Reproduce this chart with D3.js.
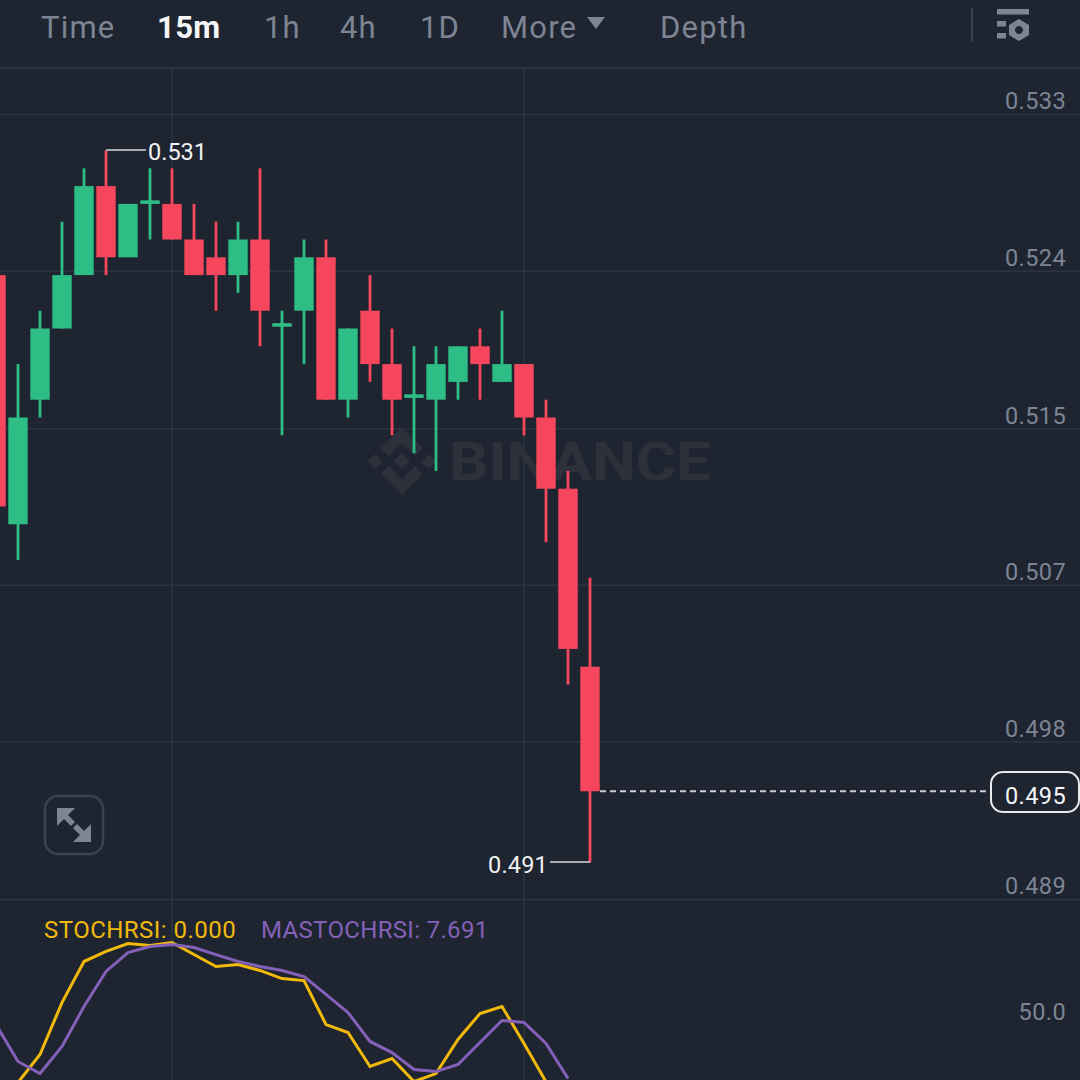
<!DOCTYPE html>
<html>
<head>
<meta charset="utf-8">
<script src="https://cdn.jsdelivr.net/npm/d3@7"></script>
<style>
  html, body { margin: 0; padding: 0; background: #1f2530; overflow: hidden; }
  svg { display: block; font-family: "Roboto", sans-serif; }
</style>
</head>
<body>
<script>
// candles, oldest first (the first one is cut off by the left edge)
var opens  = [0.524, 0.510, 0.517, 0.521, 0.524, 0.529, 0.525, 0.528, 0.528, 0.526, 0.525, 0.524, 0.526, 0.5211, 0.522, 0.525, 0.517, 0.522, 0.519, 0.5171, 0.517, 0.518, 0.520, 0.518, 0.519, 0.516, 0.512, 0.502];
var closes = [0.511, 0.516, 0.521, 0.524, 0.529, 0.525, 0.528, 0.5282, 0.526, 0.524, 0.524, 0.526, 0.522, 0.5213, 0.525, 0.517, 0.521, 0.519, 0.517, 0.5173, 0.519, 0.520, 0.519, 0.519, 0.516, 0.512, 0.503, 0.495];
var highs  = [0.524, 0.519, 0.522, 0.527, 0.530, 0.531, 0.528, 0.530, 0.530, 0.528, 0.527, 0.527, 0.530, 0.522, 0.526, 0.526, 0.521, 0.524, 0.521, 0.520, 0.520, 0.520, 0.521, 0.522, 0.519, 0.517, 0.513, 0.507];
var lows   = [0.511, 0.508, 0.516, 0.521, 0.524, 0.524, 0.525, 0.526, 0.526, 0.524, 0.522, 0.523, 0.520, 0.515, 0.519, 0.517, 0.516, 0.518, 0.515, 0.514, 0.513, 0.517, 0.517, 0.518, 0.515, 0.509, 0.501, 0.491];

// indicator pane
var stochRsi   = [null, 0, 19.7, 56.3, 85.2, 92.3, 97.9, 96.5, 98.6, 90.1, 81.7, 83.1, 78.9, 73.2, 71.8, 40.8, 35.2, 11.3, 16.9, 0.7, 6.3, 30.3, 48.6, 53.5, 27.5, 0.5, 0, 0];
var maStochRsi = [40.8, 14.8, 6.3, 25.4, 53.5, 78.2, 91.5, 95.8, 97.2, 95.1, 90.1, 85.2, 81.7, 78.9, 74.6, 62.0, 49.3, 28.9, 21.1, 9.2, 7.7, 12.7, 28.2, 43.7, 42.3, 27.5, 2.8, null];

var priceTicks = [0.53305, 0.52425, 0.5154, 0.5066, 0.4978, 0.48895];
var stochTicks = [50];
var tabs = ["Time", "15m", "1h", "4h", "1D", "More", "Depth"];
var lastPrice = 0.495, maxPrice = 0.531, minPrice = 0.491;

var bg = "#1f2530", grid = "#2d3440", muted = "#7d8493";
var up = "#2ebd85", down = "#f6465d";

var svg = d3.select("body").append("svg")
    .attr("width", 1080)
    .attr("height", 1080);

var x = d3.scaleLinear().domain([0, 27]).range([-4, 590]);
var y = d3.scaleLinear().domain([maxPrice, minPrice]).range([150.5, 862.5]);
var yStoch = d3.scaleLinear().domain([0, 100]).range([1082.5, 940.5]);

// top bar
svg.append("rect").attr("x", 0).attr("y", 67).attr("width", 1080).attr("height", 2).attr("fill", grid);

var tabX = [41, 157, 264, 340, 420, 501, 660];
svg.selectAll("text.tab")
    .data(tabs)
    .enter().append("text")
    .attr("class", "tab")
    .attr("x", function(d, i) { return tabX[i]; })
    .attr("y", 38)
    .attr("font-size", 31)
    .attr("letter-spacing", function(d) { return d == "15m" ? 0.4 : 1.2; })
    .attr("font-weight", function(d) { return d == "15m" ? 700 : 400; })
    .attr("fill", function(d) { return d == "15m" ? "#f5f6f8" : muted; })
    .text(function(d) { return d; });

svg.append("path").attr("d", "M587,17 L605,17 L596,29 Z").attr("fill", muted);
svg.append("rect").attr("x", 971).attr("y", 8).attr("width", 2).attr("height", 33).attr("fill", "#3a4150");

// settings icon
var icon = svg.append("g").attr("fill", muted);
icon.append("rect").attr("x", 997).attr("y", 9).attr("width", 32).attr("height", 5.5);
icon.append("rect").attr("x", 997).attr("y", 21).attr("width", 9).attr("height", 5.5);
icon.append("rect").attr("x", 997).attr("y", 33).attr("width", 9).attr("height", 5.5);
icon.append("path").attr("fill-rule", "evenodd")
    .attr("d", "M1019,19 L1029,25 L1029,35 L1019,41 L1009,35 L1009,25 Z M1019,26 a4,4 0 1,0 0.01,0 Z");

// grid
svg.selectAll("line.vgrid")
    .data([172, 524])
    .enter().append("line")
    .attr("class", "vgrid")
    .attr("x1", function(d) { return d; })
    .attr("x2", function(d) { return d; })
    .attr("y1", 69).attr("y2", 1080)
    .attr("stroke", grid).attr("stroke-width", 1.5);

var priceAxis = svg.append("g")
    .attr("transform", "translate(1080,0)")
    .call(d3.axisLeft(y).tickValues(priceTicks).tickSize(1080).tickFormat(d3.format(".3f")));
priceAxis.select(".domain").remove();
priceAxis.selectAll("line").attr("stroke", grid).attr("stroke-width", 1.5);
priceAxis.selectAll("text")
    .attr("x", -14).attr("dy", "-0.22em")
    .attr("font-family", "Roboto").attr("font-size", 23.5).attr("letter-spacing", 0.4)
    .attr("fill", muted);

var stochAxis = svg.append("g")
    .attr("transform", "translate(1080,0)")
    .call(d3.axisLeft(yStoch).tickValues(stochTicks).tickSize(0).tickFormat(d3.format(".1f")));
stochAxis.select(".domain").remove();
stochAxis.selectAll("text")
    .attr("x", -14).attr("dy", "0.32em")
    .attr("font-family", "Roboto").attr("font-size", 23.5).attr("letter-spacing", 0.4)
    .attr("fill", muted);

// watermark
var mark = svg.append("g").attr("transform", "translate(402,461)").attr("fill", "#2c313c");
mark.selectAll("path")
    .data([
        "M0,-34 L21,-13 L13,-5 L0,-18 L-13,-5 L-21,-13 Z",
        "M0,34 L21,13 L13,5 L0,18 L-13,5 L-21,13 Z",
        "M0,-8 L8,0 L0,8 L-8,0 Z",
        "M-27,-7 L-19,1 L-27,8 L-34,0 Z",
        "M27,-7 L34,0 L27,8 L19,1 Z"
    ])
    .enter().append("path")
    .attr("d", function(d) { return d; });
svg.append("text")
    .attr("x", 449).attr("y", 480)
    .attr("font-size", 53).attr("font-weight", 700)
    .attr("textLength", 262).attr("lengthAdjust", "spacingAndGlyphs")
    .attr("fill", "#2c313c")
    .text("BINANCE");

// candles
var candles = svg.append("g").selectAll("g")
    .data(opens)
    .enter().append("g")
    .attr("fill", function(d, i) { return closes[i] >= d ? up : down; });

candles.append("rect")
    .attr("x", function(d, i) { return x(i) - 1.4; })
    .attr("width", 2.8)
    .attr("y", function(d, i) { return y(highs[i]); })
    .attr("height", function(d, i) { return y(lows[i]) - y(highs[i]); });

candles.append("rect")
    .attr("x", function(d, i) { return x(i) - 9.7; })
    .attr("width", 19.4)
    .attr("y", function(d, i) { return y(Math.max(d, closes[i])); })
    .attr("height", function(d, i) { return Math.max(2.4, Math.abs(y(d) - y(closes[i]))); });

// high and low markers
svg.append("line").attr("x1", x(5)).attr("x2", 146)
    .attr("y1", y(maxPrice) - 0.5).attr("y2", y(maxPrice) - 0.5)
    .attr("stroke", "#d5d8dd").attr("stroke-width", 1.5);
svg.append("text").attr("x", 148).attr("y", 160)
    .attr("font-size", 23.5).attr("letter-spacing", 0).attr("fill", "#f0f1f3")
    .text(maxPrice.toFixed(3));
svg.append("line").attr("x1", 550).attr("x2", x(27))
    .attr("y1", y(minPrice) - 0.5).attr("y2", y(minPrice) - 0.5)
    .attr("stroke", "#d5d8dd").attr("stroke-width", 1.5);
svg.append("text").attr("x", 488).attr("y", 873)
    .attr("font-size", 23.5).attr("letter-spacing", 0.2).attr("fill", "#f0f1f3")
    .text(minPrice.toFixed(3));

// last price
svg.append("line").attr("x1", 600).attr("x2", 990)
    .attr("y1", y(lastPrice)).attr("y2", y(lastPrice))
    .attr("stroke", "#c9ccd2").attr("stroke-width", 2)
    .attr("stroke-dasharray", "6,4");
svg.append("rect").attr("x", 991).attr("y", 772).attr("width", 88).attr("height", 40).attr("rx", 12)
    .attr("fill", bg).attr("stroke", "#e8eaed").attr("stroke-width", 2);
svg.append("text").attr("x", 1005).attr("y", 804)
    .attr("font-size", 23.5).attr("letter-spacing", 0.4).attr("fill", "#f5f6f8")
    .text(lastPrice.toFixed(3));

// expand button
svg.append("rect").attr("x", 45).attr("y", 796).attr("width", 58).attr("height", 58).attr("rx", 13)
    .attr("fill", "none").attr("stroke", "#3a4150").attr("stroke-width", 2.5);
var expand = svg.append("g").attr("fill", "#7d8493");
expand.append("path").attr("d", "M57,808 L75,808 L57,826 Z");
expand.append("path").attr("d", "M91,842 L73,842 L91,824 Z");
expand.append("path").attr("d", "M64,811 L75,822 L71,826 L60,815 Z");
expand.append("path").attr("d", "M77,824 L88,835 L84,839 L73,828 Z");

// stoch lines
var line = d3.line()
    .defined(function(d) { return d != null; })
    .x(function(d, i) { return x(i); })
    .y(function(d) { return yStoch(d); });

svg.append("path").datum(stochRsi)
    .attr("fill", "none").attr("stroke", "#f0b90b").attr("stroke-width", 3)
    .attr("d", line);
svg.append("path").datum(maStochRsi)
    .attr("fill", "none").attr("stroke", "#8461b8").attr("stroke-width", 3)
    .attr("d", line);

svg.append("text").attr("x", 44).attr("y", 938)
    .attr("font-size", 24).attr("letter-spacing", 0.47).attr("fill", "#f0b90b")
    .text("STOCHRSI: 0.000");
svg.append("text").attr("x", 261).attr("y", 938)
    .attr("font-size", 24).attr("letter-spacing", 0.33).attr("fill", "#8461b8")
    .text("MASTOCHRSI: 7.691");
</script>
</body>
</html>
